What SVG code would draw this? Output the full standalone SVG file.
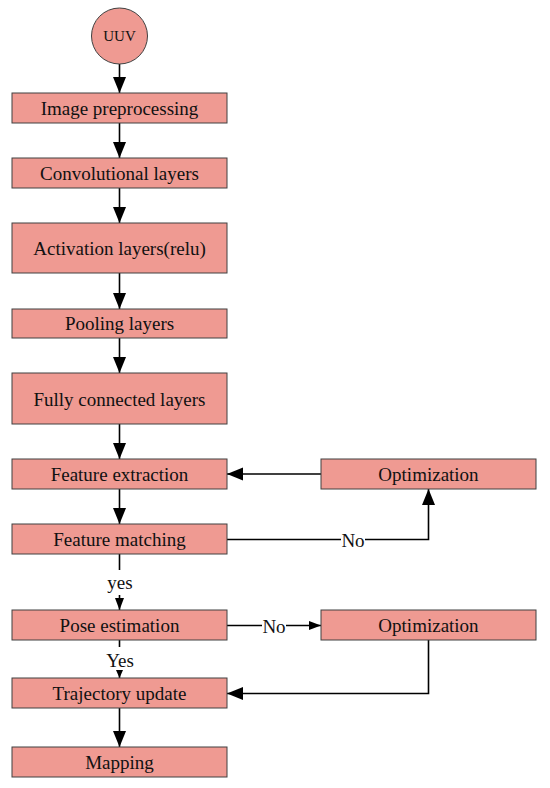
<svg xmlns="http://www.w3.org/2000/svg" width="550" height="788" viewBox="0 0 550 788">
<style>
.box{fill:#ef9a92;stroke:#404040;stroke-width:1}
.t{font-family:"Liberation Serif","Times New Roman",serif;font-size:19px;fill:#111;text-anchor:middle;dominant-baseline:central}
.lbl{font-family:"Liberation Serif","Times New Roman",serif;font-size:19px;fill:#111;text-anchor:middle;dominant-baseline:central}
.ln{fill:none;stroke:#000;stroke-width:1.6}
</style>
<defs>
<marker id="big" markerUnits="userSpaceOnUse" markerWidth="17" markerHeight="14" refX="16" refY="6.5" orient="auto"><path d="M0,0 L16,6.5 L0,13 z" fill="#000"/></marker>
<marker id="mid" markerUnits="userSpaceOnUse" markerWidth="13" markerHeight="10" refX="12" refY="4.5" orient="auto"><path d="M0,0 L12,4.5 L0,9 z" fill="#000"/></marker>
<marker id="sm" markerUnits="userSpaceOnUse" markerWidth="9" markerHeight="8" refX="8" refY="3.5" orient="auto"><path d="M0,0 L8,3.5 L0,7 z" fill="#000"/></marker>
</defs>
<g id="connectors">
<path class="ln" d="M119.5,64 V93" marker-end="url(#big)"/>
<path class="ln" d="M119.5,123 V158" marker-end="url(#big)"/>
<path class="ln" d="M119.5,188 V223" marker-end="url(#big)"/>
<path class="ln" d="M119.5,273 V309" marker-end="url(#big)"/>
<path class="ln" d="M119.5,338 V373" marker-end="url(#big)"/>
<path class="ln" d="M119.5,424 V459" marker-end="url(#big)"/>
<path class="ln" d="M119.5,489 V524" marker-end="url(#big)"/>
<path class="ln" d="M119.5,554 V570"/>
<path class="ln" d="M119.5,595 V610" marker-end="url(#mid)"/>
<path class="ln" d="M119.5,640 V647"/>
<path class="ln" d="M119.5,673 V678" marker-end="url(#sm)"/>
<path class="ln" d="M119.5,708 V747" marker-end="url(#big)"/>
<path class="ln" d="M321,474 H227" marker-end="url(#big)"/>
<path class="ln" d="M227,539.5 H341"/>
<path class="ln" d="M365,539.5 H428.5 V489" marker-end="url(#big)"/>
<path class="ln" d="M227,625.5 H262"/>
<path class="ln" d="M286,625.5 H321" marker-end="url(#mid)"/>
<path class="ln" d="M428.5,640 V693.5 H227" marker-end="url(#big)"/>
<text class="lbl" x="353" y="540">No</text>
<text class="lbl" x="274" y="626">No</text>
<text class="lbl" x="120" y="582">yes</text>
<text class="lbl" x="120" y="660">Yes</text>
</g>
<g id="uuv"><circle class="box" cx="119.5" cy="36" r="28"/><text class="lbl" x="119.5" y="36" style="font-size:15px">UUV</text></g>
<g id="image-preprocessing"><rect class="box" x="12" y="93" width="215" height="30"/><text class="t" x="119.5" y="108">Image preprocessing</text></g>
<g id="convolutional-layers"><rect class="box" x="12" y="158" width="215" height="30"/><text class="t" x="119.5" y="173">Convolutional layers</text></g>
<g id="activation-layers"><rect class="box" x="12" y="223" width="215" height="50"/><text class="t" x="119.5" y="248">Activation layers(relu)</text></g>
<g id="pooling-layers"><rect class="box" x="12" y="309" width="215" height="29"/><text class="t" x="119.5" y="323.5">Pooling layers</text></g>
<g id="fully-connected-layers"><rect class="box" x="12" y="373" width="215" height="51"/><text class="t" x="119.5" y="399">Fully connected layers</text></g>
<g id="feature-extraction"><rect class="box" x="12" y="459" width="215" height="30"/><text class="t" x="119.5" y="474">Feature extraction</text></g>
<g id="optimization-1"><rect class="box" x="321" y="459" width="215" height="30"/><text class="t" x="428.5" y="474">Optimization</text></g>
<g id="feature-matching"><rect class="box" x="12" y="524" width="215" height="30"/><text class="t" x="119.5" y="539">Feature matching</text></g>
<g id="pose-estimation"><rect class="box" x="12" y="610" width="215" height="30"/><text class="t" x="119.5" y="625">Pose estimation</text></g>
<g id="optimization-2"><rect class="box" x="321" y="610" width="215" height="30"/><text class="t" x="428.5" y="625">Optimization</text></g>
<g id="trajectory-update"><rect class="box" x="12" y="678" width="215" height="30"/><text class="t" x="119.5" y="693">Trajectory update</text></g>
<g id="mapping"><rect class="box" x="12" y="747" width="215" height="30"/><text class="t" x="119.5" y="762">Mapping</text></g>
</svg>
